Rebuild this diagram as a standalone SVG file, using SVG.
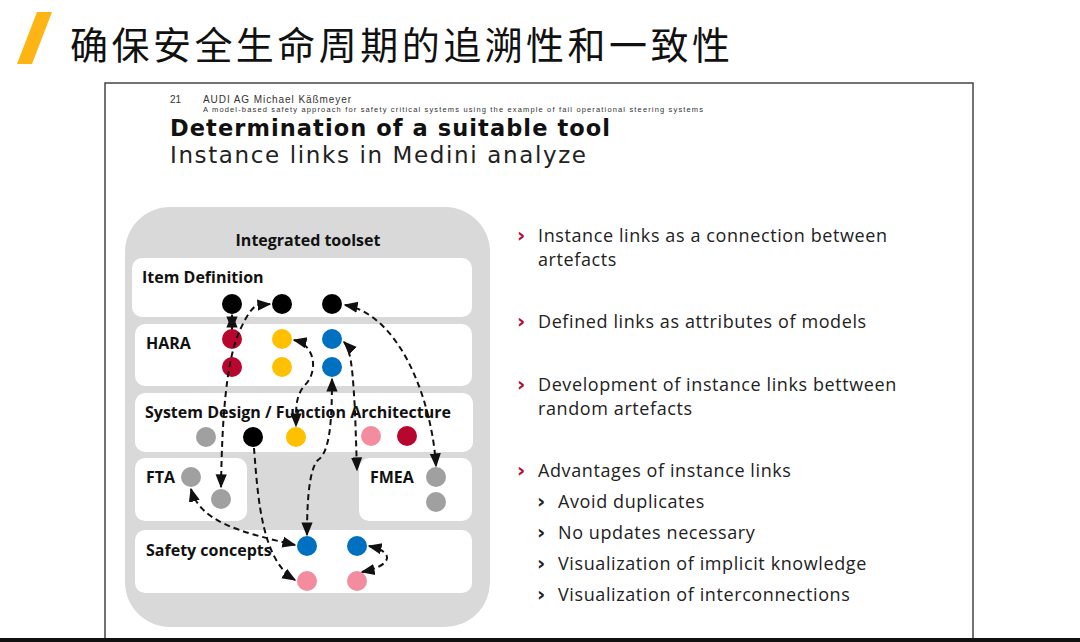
<svg xmlns="http://www.w3.org/2000/svg" width="1080" height="642" viewBox="0 0 1080 642">
<defs>
<marker id="ah" viewBox="0 0 10 10" refX="9" refY="5" markerWidth="7" markerHeight="7" orient="auto-start-reverse"><path d="M0,1 L10,5 L0,9 Z" fill="#111"/></marker>
<style>
.box{fill:#fff}
.lbl{font-family:"Open Sans","Noto Sans",sans-serif;font-weight:bold;font-size:16px;fill:#111}
.bt{font-family:"Open Sans","Noto Sans",sans-serif;font-size:18px;letter-spacing:0.6px;fill:#222}
.chev{font-family:"DejaVu Sans",sans-serif;font-size:20px;font-weight:bold}
.lk{fill:none;stroke:#111;stroke-width:2;stroke-dasharray:6,4}
</style>
</defs>
<rect width="1080" height="642" fill="#fff"/>
<polygon points="37,12 52,12 32,64 17,64" fill="#FDB515"/>
<text x="70" y="59" font-family="'Noto Sans CJK SC',sans-serif" font-size="38" textLength="660" fill="#111">确保安全生命周期的追溯性和一致性</text>
<rect x="105" y="83" width="868" height="558" fill="#fff" stroke="#444" stroke-width="1.5"/>
<rect x="0" y="638" width="1080" height="4" fill="#111"/>
<text x="170" y="103" font-family="'Liberation Sans',sans-serif" font-size="10" fill="#333">21</text>
<text x="203" y="103" font-family="'Liberation Sans',sans-serif" font-size="10" fill="#333" textLength="148">AUDI AG   Michael Käßmeyer</text>
<text x="203" y="112" font-family="'Liberation Sans',sans-serif" font-size="7.5" fill="#333" textLength="500">A model-based safety approach for safety critical systems using the example of fail operational steering systems</text>
<text x="170" y="136" font-family="'DejaVu Sans',sans-serif" font-weight="bold" font-size="22.5" textLength="440" fill="#111">Determination of a suitable tool</text>
<text x="170" y="163" font-family="'DejaVu Sans',sans-serif" font-size="23" textLength="416" fill="#222">Instance links in Medini analyze</text>

<rect x="125" y="207" width="365" height="420" rx="45" fill="#d9d9d9"/>
<text x="308" y="246" text-anchor="middle" class="lbl">Integrated toolset</text>
<g id="item"><rect class="box" x="132" y="258" width="340" height="59" rx="10"/><text class="lbl" x="142" y="283">Item Definition</text>
<circle cx="232" cy="304" r="10" fill="#000"/><circle cx="282" cy="304" r="10" fill="#000"/><circle cx="332" cy="304" r="10" fill="#000"/></g>
<g id="hara"><rect class="box" x="135" y="324" width="337" height="62" rx="10"/><text class="lbl" x="146" y="349">HARA</text>
<circle cx="232" cy="339" r="10" fill="#B8072F"/><circle cx="232" cy="367" r="10" fill="#B8072F"/>
<circle cx="282" cy="339" r="10" fill="#FFC000"/><circle cx="282" cy="367" r="10" fill="#FFC000"/>
<circle cx="332" cy="339" r="10" fill="#0070C0"/><circle cx="332" cy="367" r="10" fill="#0070C0"/></g>
<g id="sysdesign"><rect class="box" x="135" y="393" width="338" height="59" rx="10"/><text class="lbl" x="145" y="418">System Design / Function Architecture</text>
<circle cx="206" cy="437" r="10" fill="#A0A0A0"/><circle cx="253" cy="437" r="10" fill="#000"/><circle cx="296" cy="437" r="10" fill="#FFC000"/><circle cx="371" cy="436" r="10" fill="#F48CA0"/><circle cx="407" cy="436" r="10" fill="#B8072F"/></g>
<g id="fta"><rect class="box" x="135" y="458" width="112" height="63" rx="10"/><text class="lbl" x="146" y="483">FTA</text>
<circle cx="191" cy="477" r="10" fill="#A0A0A0"/><circle cx="221" cy="499" r="10" fill="#A0A0A0"/></g>
<g id="fmea"><rect class="box" x="359" y="458" width="113" height="63" rx="10"/><text class="lbl" x="370" y="483">FMEA</text>
<circle cx="436" cy="477" r="10" fill="#A0A0A0"/><circle cx="436" cy="502" r="10" fill="#A0A0A0"/></g>
<g id="safety"><rect class="box" x="135" y="530" width="337" height="63" rx="10"/><text class="lbl" x="146" y="556">Safety concepts</text>
<circle cx="307" cy="546" r="10" fill="#0070C0"/><circle cx="357" cy="546" r="10" fill="#0070C0"/><circle cx="307" cy="581" r="10" fill="#F48CA0"/><circle cx="357" cy="581" r="10" fill="#F48CA0"/></g>

<g id="links">
<path class="lk" d="M232,315 L232,329" marker-start="url(#ah)" marker-end="url(#ah)"/>
<path class="lk" d="M221,487 C222,420 226,360 240,330 S258,305 270,304" marker-start="url(#ah)" marker-end="url(#ah)"/>
<path class="lk" d="M294,340 C316,345 318,372 305,385 C295,396 296,410 296,426" marker-start="url(#ah)" marker-end="url(#ah)"/>
<path class="lk" d="M332,379 C332,420 330,452 318,460 C308,470 307,510 307,535" marker-start="url(#ah)" marker-end="url(#ah)"/>
<path class="lk" d="M344,342 C352,350 353,380 355,410 L357,470" marker-start="url(#ah)" marker-end="url(#ah)"/>
<path class="lk" d="M345,305 C400,315 432,400 436,466" marker-start="url(#ah)" marker-end="url(#ah)"/>
<path class="lk" d="M254,448 C258,500 262,560 295,580" marker-end="url(#ah)"/>
<path class="lk" d="M191,489 C200,522 240,532 295,545" marker-start="url(#ah)" marker-end="url(#ah)"/>
<path class="lk" d="M369,546 C396,552 392,566 362,572" marker-start="url(#ah)" marker-end="url(#ah)"/>
</g>

<g id="bullets">
<text class="chev" x="517" y="242" fill="#B8072F">›</text>
<text class="bt" x="538" y="242">Instance links as a connection between</text>
<text class="bt" x="538" y="266">artefacts</text>
<text class="chev" x="517" y="328" fill="#B8072F">›</text>
<text class="bt" x="538" y="328">Defined links as attributes of models</text>
<text class="chev" x="517" y="391" fill="#B8072F">›</text>
<text class="bt" x="538" y="391">Development of instance links bettween</text>
<text class="bt" x="538" y="415">random artefacts</text>
<text class="chev" x="517" y="477" fill="#B8072F">›</text>
<text class="bt" x="538" y="477">Advantages of instance links</text>
<text class="chev" x="537" y="508" fill="#222">›</text>
<text class="bt" x="558" y="508">Avoid duplicates</text>
<text class="chev" x="537" y="539" fill="#222">›</text>
<text class="bt" x="558" y="539">No updates necessary</text>
<text class="chev" x="537" y="570" fill="#222">›</text>
<text class="bt" x="558" y="570">Visualization of implicit knowledge</text>
<text class="chev" x="537" y="601" fill="#222">›</text>
<text class="bt" x="558" y="601">Visualization of interconnections</text>
</g>
</svg>
